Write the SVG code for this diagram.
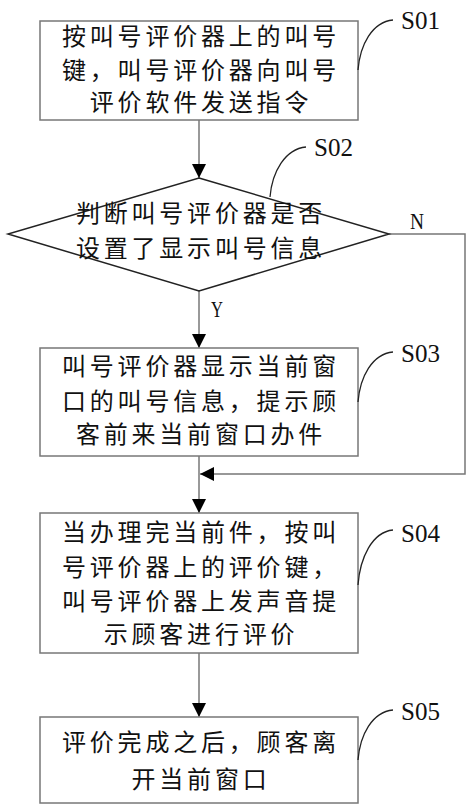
<svg xmlns="http://www.w3.org/2000/svg" width="474" height="812" viewBox="0 0 474 812">
<style>
.box{fill:#fff;stroke:#777;stroke-width:1.5}
.dia{fill:#fff;stroke:#222;stroke-width:1.5}
.t{font-family:"Liberation Serif","Noto Sans CJK SC",serif;font-size:24px;letter-spacing:3.8px;fill:#111;text-anchor:middle}
.lbl{font-family:"Liberation Serif",serif;font-size:26px;fill:#111}
.yn{font-family:"Liberation Serif",serif;font-size:24px;fill:#111;text-anchor:middle}
.ln{fill:none;stroke:#777;stroke-width:1.5}
.cv{fill:none;stroke:#222;stroke-width:1.3}
</style>
<defs>
<marker id="ah" viewBox="0 0 14 14" refX="14" refY="7" markerWidth="14" markerHeight="14" markerUnits="userSpaceOnUse" orient="auto">
<path d="M0,0 L14,7 L0,14 Z" fill="#000"/>
</marker>
</defs>
<rect width="474" height="812" fill="#fff"/>
<g id="connectors">
<path class="ln" d="M199,120 V178" marker-end="url(#ah)"/>
<path class="ln" d="M199,291 V348" marker-end="url(#ah)"/>
<path class="ln" d="M199,456 V513" marker-end="url(#ah)"/>
<path class="ln" d="M389,234 H465 V474 H200" marker-end="url(#ah)"/>
<path class="ln" d="M199,653 V717" marker-end="url(#ah)"/>
<text class="yn" x="417" y="229" textLength="14" lengthAdjust="spacingAndGlyphs">N</text>
<text class="yn" x="217" y="317" textLength="12" lengthAdjust="spacingAndGlyphs">Y</text>
</g>
<g id="S01">
<rect class="box" x="40" y="21" width="318" height="99"/>
<text class="t" x="201" y="45">按叫号评价器上的叫号</text>
<text class="t" x="201" y="79">键，叫号评价器向叫号</text>
<text class="t" x="201" y="111">评价软件发送指令</text>
<path class="cv" d="M358,70 C360,45 372,22 393,20"/>
<text class="lbl" x="401" y="29" textLength="39" lengthAdjust="spacingAndGlyphs">S01</text>
</g>
<g id="S02">
<path class="dia" d="M199,178 L389,234 L199,291 L8,234 Z"/>
<text class="t" x="201" y="222">判断叫号评价器是否</text>
<text class="t" x="201" y="257">设置了显示叫号信息</text>
<path class="cv" d="M270,197 C272,172 285,149 306,147"/>
<text class="lbl" x="314" y="156" textLength="39" lengthAdjust="spacingAndGlyphs">S02</text>
</g>
<g id="S03">
<rect class="box" x="40" y="348" width="318" height="108"/>
<text class="t" x="201" y="375">叫号评价器显示当前窗</text>
<text class="t" x="201" y="410">口的叫号信息，提示顾</text>
<text class="t" x="201" y="443">客前来当前窗口办件</text>
<path class="cv" d="M358,402 C360,377 372,354 393,352"/>
<text class="lbl" x="401" y="362" textLength="39" lengthAdjust="spacingAndGlyphs">S03</text>
</g>
<g id="S04">
<rect class="box" x="40" y="513" width="318" height="140"/>
<text class="t" x="201" y="541">当办理完当前件，按叫</text>
<text class="t" x="201" y="576">号评价器上的评价键，</text>
<text class="t" x="201" y="610">叫号评价器上发声音提</text>
<text class="t" x="201" y="643">示顾客进行评价</text>
<path class="cv" d="M358,585 C360,558 372,532 393,530"/>
<text class="lbl" x="401" y="542" textLength="39" lengthAdjust="spacingAndGlyphs">S04</text>
</g>
<g id="S05">
<rect class="box" x="40" y="717" width="318" height="86"/>
<text class="t" x="201" y="751">评价完成之后，顾客离</text>
<text class="t" x="201" y="788">开当前窗口</text>
<path class="cv" d="M358,760 C360,735 372,712 393,710"/>
<text class="lbl" x="401" y="720" textLength="39" lengthAdjust="spacingAndGlyphs">S05</text>
</g>
</svg>
